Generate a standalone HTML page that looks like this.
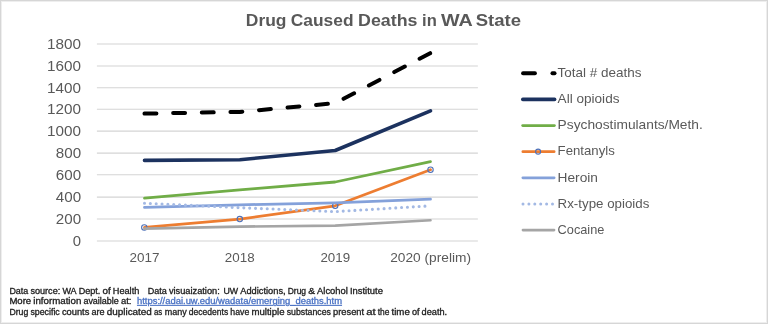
<!DOCTYPE html>
<html><head><meta charset="utf-8">
<style>
html,body{margin:0;padding:0;background:#fff;}
svg{display:block;filter:blur(0.35px);}
text{font-family:"Liberation Sans",sans-serif;}
</style></head>
<body>
<svg width="768" height="324" viewBox="0 0 768 324">
<rect x="0" y="0" width="768" height="324" fill="#fff"/>
<rect x="0.5" y="0.5" width="767" height="323" fill="none" stroke="#d6d6d6" stroke-width="1"/>
<rect x="1.5" y="1.5" width="765" height="321" fill="none" stroke="#eeeeee" stroke-width="1"/>

<!-- title -->
<g fill="#595959" font-size="17.2" font-weight="bold">
<text x="245.8" y="25.7" textLength="40.7" lengthAdjust="spacingAndGlyphs">Drug</text>
<text x="290.8" y="25.7" textLength="62.7" lengthAdjust="spacingAndGlyphs">Caused</text>
<text x="358.1" y="25.7" textLength="59.4" lengthAdjust="spacingAndGlyphs">Deaths</text>
<text x="422.1" y="25.7" textLength="14.7" lengthAdjust="spacingAndGlyphs">in</text>
<text x="440.9" y="25.7" textLength="31.8" lengthAdjust="spacingAndGlyphs">WA</text>
<text x="475.7" y="25.7" textLength="45.3" lengthAdjust="spacingAndGlyphs">State</text>
</g>

<!-- gridlines -->
<g stroke="#d4d4d4" stroke-width="1.05">
<line x1="96.9" x2="477.9" y1="240.9" y2="240.9"/>
<line x1="96.9" x2="477.9" y1="218.9" y2="218.9"/>
<line x1="96.9" x2="477.9" y1="197.1" y2="197.1"/>
<line x1="96.9" x2="477.9" y1="174.8" y2="174.8"/>
<line x1="96.9" x2="477.9" y1="153.1" y2="153.1"/>
<line x1="96.9" x2="477.9" y1="131.1" y2="131.1"/>
<line x1="96.9" x2="477.9" y1="109.3" y2="109.3"/>
<line x1="96.9" x2="477.9" y1="87.7" y2="87.7"/>
<line x1="96.9" x2="477.9" y1="65.9" y2="65.9"/>
<line x1="96.9" x2="477.9" y1="43.9" y2="43.9"/>
</g>

<!-- y labels -->
<g fill="#595959" font-size="14" text-anchor="end">
<text x="81.1" y="245.8" textLength="8.3" lengthAdjust="spacingAndGlyphs">0</text>
<text x="81.1" y="223.8" textLength="25.3" lengthAdjust="spacingAndGlyphs">200</text>
<text x="81.1" y="202.0" textLength="25.3" lengthAdjust="spacingAndGlyphs">400</text>
<text x="81.1" y="179.7" textLength="25.3" lengthAdjust="spacingAndGlyphs">600</text>
<text x="81.1" y="158.0" textLength="25.3" lengthAdjust="spacingAndGlyphs">800</text>
<text x="81.1" y="136.0" textLength="34.0" lengthAdjust="spacingAndGlyphs">1000</text>
<text x="81.1" y="114.2" textLength="34.0" lengthAdjust="spacingAndGlyphs">1200</text>
<text x="81.1" y="92.6" textLength="34.0" lengthAdjust="spacingAndGlyphs">1400</text>
<text x="81.1" y="70.8" textLength="34.0" lengthAdjust="spacingAndGlyphs">1600</text>
<text x="81.1" y="48.8" textLength="34.0" lengthAdjust="spacingAndGlyphs">1800</text>
</g>

<!-- x labels -->
<g fill="#595959" font-size="13.3" lengthAdjust="spacingAndGlyphs">
<text x="129.6" y="262" textLength="30" lengthAdjust="spacingAndGlyphs">2017</text>
<text x="224.8" y="262" textLength="29.8" lengthAdjust="spacingAndGlyphs">2018</text>
<text x="320.4" y="262" textLength="29.7" lengthAdjust="spacingAndGlyphs">2019</text>
<text x="390.2" y="262" textLength="80.8" lengthAdjust="spacingAndGlyphs">2020 (prelim)</text>
</g>

<!-- series -->
<g fill="none" stroke-linejoin="round" stroke-linecap="round">
<polyline points="144.5,113.6 239.8,111.9 335.2,103.2 430.5,53.0" stroke="#000" stroke-width="4" stroke-dasharray="11.9 16.75"/>
<polyline points="144.5,160.4 239.8,159.7 335.2,150.5 430.5,110.9" stroke="#1c325f" stroke-width="3.6"/>
<polyline points="144.5,198.2 239.8,189.8 335.2,182 430.5,161.7" stroke="#70ad47" stroke-width="2.8"/>
<polyline points="144.5,227.3 239.8,219.1 335.2,205.8 430.5,169.75" stroke="#ed7d31" stroke-width="2.8"/>
</g>
<g fill="none" stroke="#4d70b8" stroke-width="1.1">
<circle cx="144.3" cy="227.5" r="2.7"/>
<circle cx="239.8" cy="219.1" r="2.7"/>
<circle cx="335.2" cy="205.8" r="2.7"/>
<circle cx="430.5" cy="169.75" r="2.7"/>
</g>
<g fill="none" stroke-linejoin="round" stroke-linecap="round">
<polyline points="144.5,207.4 239.8,204.8 335.2,202.8 430.5,199.2" stroke="#84a1da" stroke-width="2.8"/>
<polyline points="144.5,203.2 239.8,207.7 335.2,211.6 430.5,205.8" stroke="#a3b9e4" stroke-width="3.1" stroke-dasharray="0 5.85"/>
<polyline points="144.5,228.6 239.8,226.6 335.2,225.6 430.5,220.3" stroke="#a5a5a5" stroke-width="2.6"/>
</g>

<!-- legend -->
<g fill="none" stroke-linecap="round">
<line x1="523" x2="535" y1="73.25" y2="73.25" stroke="#000" stroke-width="3.8"/>
<line x1="552.4" x2="554.6" y1="73.25" y2="73.25" stroke="#000" stroke-width="3.8"/>
<line x1="522.8" x2="554.6" y1="99.39" y2="99.39" stroke="#1c325f" stroke-width="3.6"/>
<line x1="522.7" x2="554.4" y1="125.53" y2="125.53" stroke="#70ad47" stroke-width="2.8"/>
<line x1="522.9" x2="554.1" y1="151.67" y2="151.67" stroke="#ed7d31" stroke-width="2.8"/>
<circle cx="538.1" cy="151.67" r="2.5" fill="none" stroke="#4d70b8" stroke-width="1.1"/>
<line x1="522.9" x2="554.1" y1="177.81" y2="177.81" stroke="#84a1da" stroke-width="2.8"/>
<line x1="523" x2="555" y1="203.95" y2="203.95" stroke="#a3b9e4" stroke-width="3" stroke-dasharray="0 5.9"/>
<line x1="522.9" x2="554.1" y1="230.09" y2="230.09" stroke="#a5a5a5" stroke-width="2.6"/>
</g>
<g fill="#595959" font-size="12.2">
<text x="557.6" y="76.90" textLength="84.0" lengthAdjust="spacingAndGlyphs">Total # deaths</text>
<text x="557.6" y="103.05" textLength="61.9" lengthAdjust="spacingAndGlyphs">All opioids</text>
<text x="557.6" y="129.20" textLength="145.2" lengthAdjust="spacingAndGlyphs">Psychostimulants/Meth.</text>
<text x="557.6" y="155.35" textLength="57.2" lengthAdjust="spacingAndGlyphs">Fentanyls</text>
<text x="557.6" y="181.50" textLength="40.4" lengthAdjust="spacingAndGlyphs">Heroin</text>
<text x="557.6" y="207.65" textLength="91.7" lengthAdjust="spacingAndGlyphs">Rx-type opioids</text>
<text x="557.6" y="233.80" textLength="46.8" lengthAdjust="spacingAndGlyphs">Cocaine</text>
</g>

<!-- footer -->
<g fill="#222222" stroke="#222222" stroke-width="0.3" font-size="8.4">
<text x="9.4" y="293.6" textLength="18.9" lengthAdjust="spacingAndGlyphs">Data</text>
<text x="30.4" y="293.6" textLength="29.9" lengthAdjust="spacingAndGlyphs">source:</text>
<text x="62.4" y="293.6" textLength="14.2" lengthAdjust="spacingAndGlyphs">WA</text>
<text x="78.7" y="293.6" textLength="21.7" lengthAdjust="spacingAndGlyphs">Dept.</text>
<text x="102.5" y="293.6" textLength="8.2" lengthAdjust="spacingAndGlyphs">of</text>
<text x="112.8" y="293.6" textLength="26.5" lengthAdjust="spacingAndGlyphs">Health</text>
<text x="147.7" y="293.6" textLength="19.1" lengthAdjust="spacingAndGlyphs">Data</text>
<text x="168.9" y="293.6" textLength="50.9" lengthAdjust="spacingAndGlyphs">visuaization:</text>
<text x="223.5" y="293.6" textLength="14.7" lengthAdjust="spacingAndGlyphs">UW</text>
<text x="240.3" y="293.6" textLength="45.3" lengthAdjust="spacingAndGlyphs">Addictions,</text>
<text x="287.7" y="293.6" textLength="18.4" lengthAdjust="spacingAndGlyphs">Drug</text>
<text x="308.2" y="293.6" textLength="6.8" lengthAdjust="spacingAndGlyphs">&amp;</text>
<text x="317.1" y="293.6" textLength="30.7" lengthAdjust="spacingAndGlyphs">Alcohol</text>
<text x="349.9" y="293.6" textLength="33.0" lengthAdjust="spacingAndGlyphs">Institute</text>
<text x="9.4" y="304" textLength="21.8" lengthAdjust="spacingAndGlyphs">More</text>
<text x="33.3" y="304" textLength="48.0" lengthAdjust="spacingAndGlyphs">information</text>
<text x="83.4" y="304" textLength="35.4" lengthAdjust="spacingAndGlyphs">available</text>
<text x="120.9" y="304" textLength="10.5" lengthAdjust="spacingAndGlyphs">at:</text>
<text x="9.4" y="314.6" textLength="18.9" lengthAdjust="spacingAndGlyphs">Drug</text>
<text x="30.4" y="314.6" textLength="29.4" lengthAdjust="spacingAndGlyphs">specific</text>
<text x="61.9" y="314.6" textLength="27.5" lengthAdjust="spacingAndGlyphs">counts</text>
<text x="91.5" y="314.6" textLength="13.1" lengthAdjust="spacingAndGlyphs">are</text>
<text x="106.7" y="314.6" textLength="45.2" lengthAdjust="spacingAndGlyphs">duplicated</text>
<text x="154.0" y="314.6" textLength="8.3" lengthAdjust="spacingAndGlyphs">as</text>
<text x="164.7" y="314.6" textLength="22.0" lengthAdjust="spacingAndGlyphs">many</text>
<text x="188.8" y="314.6" textLength="39.4" lengthAdjust="spacingAndGlyphs">decedents</text>
<text x="230.3" y="314.6" textLength="19.0" lengthAdjust="spacingAndGlyphs">have</text>
<text x="251.4" y="314.6" textLength="33.2" lengthAdjust="spacingAndGlyphs">multiple</text>
<text x="286.7" y="314.6" textLength="44.3" lengthAdjust="spacingAndGlyphs">substances</text>
<text x="333.1" y="314.6" textLength="31.0" lengthAdjust="spacingAndGlyphs">present</text>
<text x="366.2" y="314.6" textLength="9.4" lengthAdjust="spacingAndGlyphs">at</text>
<text x="377.7" y="314.6" textLength="11.7" lengthAdjust="spacingAndGlyphs">the</text>
<text x="391.5" y="314.6" textLength="18.3" lengthAdjust="spacingAndGlyphs">time</text>
<text x="411.9" y="314.6" textLength="7.6" lengthAdjust="spacingAndGlyphs">of</text>
<text x="421.6" y="314.6" textLength="25.6" lengthAdjust="spacingAndGlyphs">death.</text>
<text x="137" y="304" fill="#4a72c4" stroke="#4a72c4" text-decoration="underline" textLength="205" lengthAdjust="spacingAndGlyphs">https://adai.uw.edu/wadata/emerging_deaths.htm</text>
</g>
</svg>
</body></html>
